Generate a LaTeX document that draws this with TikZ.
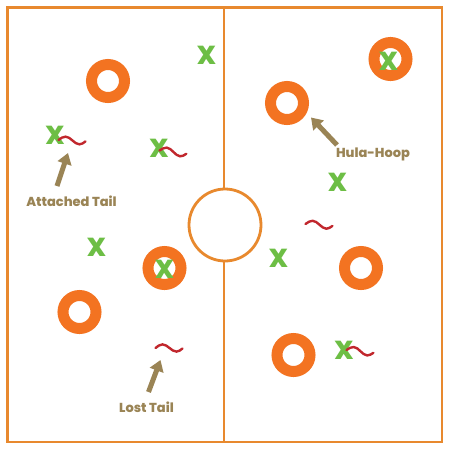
\documentclass[tikz,border=0pt]{standalone}
\usepackage{fontspec}
\newfontfamily\lblfont{Poppins}[BoldFont={Poppins ExtraBold}]
\usetikzlibrary{arrows.meta}
\definecolor{courtline}{HTML}{E8892E}
\definecolor{hoopc}{HTML}{F37321}
\definecolor{playerc}{HTML}{6DBE45}
\definecolor{tailc}{HTML}{C1272D}
\definecolor{notec}{HTML}{9A8455}
\tikzset{
  court/.style={draw=courtline,line width=2.8pt},
  hoop/.style={circle,draw=hoopc,line width=11pt,minimum size=33pt,inner sep=0pt},
  player/.style={font=\lblfont\bfseries\fontsize{26}{26}\selectfont,text=playerc,inner sep=0pt},
  note/.style={font=\lblfont\bfseries\fontsize{13}{13}\selectfont,text=notec,inner sep=0pt},
  pointer/.style={draw=notec,line width=5pt,-{Triangle[length=11pt,width=14pt]}},
  tailline/.style={draw=tailc,line width=2.4pt,line cap=round},
  pics/wiggle/.style={code={\draw[tailline] (0,0) sin (7,-3.6) cos (14,0) sin (21,3.6) cos (27,0.5);}}
}
\begin{document}
\begin{tikzpicture}[x=1pt,y=-1pt]
\useasboundingbox (0,0) rectangle (450,450);
\fill[white] (0,0) rectangle (450,450);
% court
\draw[court] (7.5,7.5) rectangle (442,442);
\coordinate (midtop) at (224,7.5);
\coordinate (midbot) at (224,442);
\draw[court] (midtop) -- (midbot);
\node[circle,court,fill=white,minimum size=72pt,inner sep=0pt] (centre) at (225,225) {};
% hoops
\node[hoop] (h1) at (108,81) {};
\node[hoop] (h2) at (390.5,59) {};
\node[hoop] (h3) at (287,103) {};
\node[hoop] (h4) at (164.5,268) {};
\node[hoop] (h5) at (79.5,312) {};
\node[hoop] (h6) at (361,268) {};
\node[hoop] (h7) at (293.5,355) {};
% players
\node[player] (p1) at (206.5,55) {X};
\node[player] (p2) at (55,135) {X};
\node[player] (p3) at (159,148.5) {X};
\node[player] (p4) at (388.5,61) {X};
\node[player] (p5) at (337.5,182.5) {X};
\node[player] (p6) at (96.5,247.5) {X};
\node[player] (p7) at (164.5,269) {X};
\node[player] (p8) at (278.5,258.5) {X};
\node[player] (p9) at (344,350) {X};
% tails
\pic[rotate=-2] at (58.5,140) {wiggle};
\pic[rotate=-6] at (159.5,150.5) {wiggle};
\pic[rotate=-3] at (305.5,224) {wiggle};
\pic at (155.5,348) {wiggle};
\pic[rotate=-5] at (346.5,350) {wiggle};
% notes
\node[note] (n1) at (71.5,201.5) {Attached Tail};
\node[note] (n2) at (373,154) {Hula-Hoop};
\node[note] (n3) at (146.5,407.5) {Lost Tail};
\coordinate (a1s) at (57,186);
\coordinate (a1e) at (68,153);
\coordinate (a2s) at (337,145);
\coordinate (a2e) at (311,117.5);
\coordinate (a3s) at (148.5,392);
\coordinate (a3e) at (160.5,360);
\draw[pointer] (a1s) -- (a1e);
\draw[pointer] (a2s) -- (a2e);
\draw[pointer] (a3s) -- (a3e);
\end{tikzpicture}
\end{document}
